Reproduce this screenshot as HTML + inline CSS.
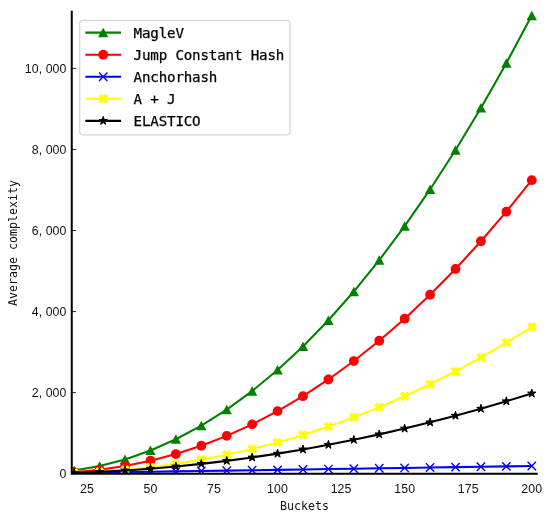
<!DOCTYPE html>
<html><head><meta charset="utf-8"><title>Average complexity</title>
<style>html,body{margin:0;padding:0;background:#fff}svg{display:block}</style></head>
<body>
<svg width="550" height="519" viewBox="0 0 550 519" font-family='"DejaVu Sans Mono","Liberation Mono",monospace'>
<rect width="550" height="519" fill="#fff"/>
<g stroke="#000" stroke-width="0.85" fill="none">
<path d="M71.75 473.70h4.3"/>
<path d="M71.75 392.64h4.3"/>
<path d="M71.75 311.58h4.3"/>
<path d="M71.75 230.52h4.3"/>
<path d="M71.75 149.46h4.3"/>
<path d="M71.75 68.40h4.3"/>
</g>
<defs><clipPath id="ax"><rect x="71.75" y="10.8" width="465.95" height="462.9"/></clipPath></defs>
<g clip-path="url(#ax)">
<g stroke="#008000" fill="#008000">
<polyline points="74.20,470.56 99.62,466.06 125.04,459.40 150.46,450.49 175.88,439.25 201.30,425.63 226.72,409.57 252.14,391.05 277.56,370.01 302.98,346.43 328.40,320.28 353.82,291.53 379.24,260.16 404.66,226.14 430.08,189.44 455.50,150.06 480.92,107.97 506.34,63.15 531.76,15.59" fill="none" stroke-width="2.08" stroke-linejoin="round"/>
<g stroke-width="0" stroke-linejoin="miter">
<path d="M74.20 465.66L69.05 475.16L79.35 475.16Z"/>
<path d="M99.62 461.16L94.47 470.66L104.77 470.66Z"/>
<path d="M125.04 454.50L119.89 464.00L130.19 464.00Z"/>
<path d="M150.46 445.59L145.31 455.09L155.61 455.09Z"/>
<path d="M175.88 434.35L170.73 443.85L181.03 443.85Z"/>
<path d="M201.30 420.73L196.15 430.23L206.45 430.23Z"/>
<path d="M226.72 404.67L221.57 414.17L231.87 414.17Z"/>
<path d="M252.14 386.15L246.99 395.65L257.29 395.65Z"/>
<path d="M277.56 365.11L272.41 374.61L282.71 374.61Z"/>
<path d="M302.98 341.53L297.83 351.03L308.13 351.03Z"/>
<path d="M328.40 315.38L323.25 324.88L333.55 324.88Z"/>
<path d="M353.82 286.63L348.67 296.13L358.97 296.13Z"/>
<path d="M379.24 255.26L374.09 264.76L384.39 264.76Z"/>
<path d="M404.66 221.24L399.51 230.74L409.81 230.74Z"/>
<path d="M430.08 184.54L424.93 194.04L435.23 194.04Z"/>
<path d="M455.50 145.16L450.35 154.66L460.65 154.66Z"/>
<path d="M480.92 103.07L475.77 112.57L486.07 112.57Z"/>
<path d="M506.34 58.25L501.19 67.75L511.49 67.75Z"/>
<path d="M531.76 10.69L526.61 20.19L536.91 20.19Z"/>
</g></g>
<g stroke="#ff0000" fill="#ff0000">
<polyline points="74.20,472.20 99.62,469.75 125.04,465.97 150.46,460.75 175.88,454.03 201.30,445.75 226.72,435.87 252.14,424.34 277.56,411.11 302.98,396.18 328.40,379.49 353.82,361.03 379.24,340.76 404.66,318.68 430.08,294.75 455.50,268.95 480.92,241.27 506.34,211.69 531.76,180.19" fill="none" stroke-width="2.08" stroke-linejoin="round"/>
<g stroke-width="0" stroke-linejoin="miter">
<circle cx="74.20" cy="472.20" r="4.9"/>
<circle cx="99.62" cy="469.75" r="4.9"/>
<circle cx="125.04" cy="465.97" r="4.9"/>
<circle cx="150.46" cy="460.75" r="4.9"/>
<circle cx="175.88" cy="454.03" r="4.9"/>
<circle cx="201.30" cy="445.75" r="4.9"/>
<circle cx="226.72" cy="435.87" r="4.9"/>
<circle cx="252.14" cy="424.34" r="4.9"/>
<circle cx="277.56" cy="411.11" r="4.9"/>
<circle cx="302.98" cy="396.18" r="4.9"/>
<circle cx="328.40" cy="379.49" r="4.9"/>
<circle cx="353.82" cy="361.03" r="4.9"/>
<circle cx="379.24" cy="340.76" r="4.9"/>
<circle cx="404.66" cy="318.68" r="4.9"/>
<circle cx="430.08" cy="294.75" r="4.9"/>
<circle cx="455.50" cy="268.95" r="4.9"/>
<circle cx="480.92" cy="241.27" r="4.9"/>
<circle cx="506.34" cy="211.69" r="4.9"/>
<circle cx="531.76" cy="180.19" r="4.9"/>
</g></g>
<g stroke="#0000ff" fill="#0000ff">
<polyline points="74.20,472.93 99.62,472.54 125.04,472.16 150.46,471.77 175.88,471.39 201.30,471.00 226.72,470.62 252.14,470.23 277.56,469.85 302.98,469.46 328.40,469.08 353.82,468.69 379.24,468.31 404.66,467.92 430.08,467.54 455.50,467.15 480.92,466.77 506.34,466.38 531.76,466.00" fill="none" stroke-width="2.08" stroke-linejoin="round"/>
<g stroke-width="1.39" stroke-linejoin="miter">
<path d="M70.00 468.73L78.40 477.13M70.00 477.13L78.40 468.73"/>
<path d="M95.42 468.34L103.82 476.74M95.42 476.74L103.82 468.34"/>
<path d="M120.84 467.96L129.24 476.36M120.84 476.36L129.24 467.96"/>
<path d="M146.26 467.57L154.66 475.97M146.26 475.97L154.66 467.57"/>
<path d="M171.68 467.19L180.08 475.59M171.68 475.59L180.08 467.19"/>
<path d="M197.10 466.80L205.50 475.20M197.10 475.20L205.50 466.80"/>
<path d="M222.52 466.42L230.92 474.82M222.52 474.82L230.92 466.42"/>
<path d="M247.94 466.03L256.34 474.43M247.94 474.43L256.34 466.03"/>
<path d="M273.36 465.65L281.76 474.05M273.36 474.05L281.76 465.65"/>
<path d="M298.78 465.26L307.18 473.66M298.78 473.66L307.18 465.26"/>
<path d="M324.20 464.88L332.60 473.28M324.20 473.28L332.60 464.88"/>
<path d="M349.62 464.49L358.02 472.89M349.62 472.89L358.02 464.49"/>
<path d="M375.04 464.11L383.44 472.51M375.04 472.51L383.44 464.11"/>
<path d="M400.46 463.72L408.86 472.12M400.46 472.12L408.86 463.72"/>
<path d="M425.88 463.34L434.28 471.74M425.88 471.74L434.28 463.34"/>
<path d="M451.30 462.95L459.70 471.35M451.30 471.35L459.70 462.95"/>
<path d="M476.72 462.57L485.12 470.97M476.72 470.97L485.12 462.57"/>
<path d="M502.14 462.18L510.54 470.58M502.14 470.58L510.54 462.18"/>
<path d="M527.56 461.80L535.96 470.20M527.56 470.20L535.96 461.80"/>
</g></g>
<g stroke="#ffff00" fill="#ffff00">
<polyline points="74.20,472.95 99.62,471.73 125.04,469.83 150.46,467.23 175.88,463.87 201.30,459.73 226.72,454.78 252.14,449.02 277.56,442.41 302.98,434.94 328.40,426.59 353.82,417.36 379.24,407.23 404.66,396.19 430.08,384.22 455.50,371.32 480.92,357.48 506.34,342.69 531.76,326.94" fill="none" stroke-width="2.08" stroke-linejoin="round"/>
<g stroke-width="1" stroke-linejoin="miter">
<path d="M69.90 470.80L72.05 468.65L74.20 470.80L76.35 468.65L78.50 470.80L76.35 472.95L78.50 475.10L76.35 477.25L74.20 475.10L72.05 477.25L69.90 475.10L72.05 472.95Z"/>
<path d="M95.32 469.58L97.47 467.43L99.62 469.58L101.77 467.43L103.92 469.58L101.77 471.73L103.92 473.88L101.77 476.03L99.62 473.88L97.47 476.03L95.32 473.88L97.47 471.73Z"/>
<path d="M120.74 467.68L122.89 465.53L125.04 467.68L127.19 465.53L129.34 467.68L127.19 469.83L129.34 471.98L127.19 474.13L125.04 471.98L122.89 474.13L120.74 471.98L122.89 469.83Z"/>
<path d="M146.16 465.08L148.31 462.93L150.46 465.08L152.61 462.93L154.76 465.08L152.61 467.23L154.76 469.38L152.61 471.53L150.46 469.38L148.31 471.53L146.16 469.38L148.31 467.23Z"/>
<path d="M171.58 461.72L173.73 459.57L175.88 461.72L178.03 459.57L180.18 461.72L178.03 463.87L180.18 466.02L178.03 468.17L175.88 466.02L173.73 468.17L171.58 466.02L173.73 463.87Z"/>
<path d="M197.00 457.58L199.15 455.43L201.30 457.58L203.45 455.43L205.60 457.58L203.45 459.73L205.60 461.88L203.45 464.03L201.30 461.88L199.15 464.03L197.00 461.88L199.15 459.73Z"/>
<path d="M222.42 452.63L224.57 450.48L226.72 452.63L228.87 450.48L231.02 452.63L228.87 454.78L231.02 456.93L228.87 459.08L226.72 456.93L224.57 459.08L222.42 456.93L224.57 454.78Z"/>
<path d="M247.84 446.87L249.99 444.72L252.14 446.87L254.29 444.72L256.44 446.87L254.29 449.02L256.44 451.17L254.29 453.32L252.14 451.17L249.99 453.32L247.84 451.17L249.99 449.02Z"/>
<path d="M273.26 440.26L275.41 438.11L277.56 440.26L279.71 438.11L281.86 440.26L279.71 442.41L281.86 444.56L279.71 446.71L277.56 444.56L275.41 446.71L273.26 444.56L275.41 442.41Z"/>
<path d="M298.68 432.79L300.83 430.64L302.98 432.79L305.13 430.64L307.28 432.79L305.13 434.94L307.28 437.09L305.13 439.24L302.98 437.09L300.83 439.24L298.68 437.09L300.83 434.94Z"/>
<path d="M324.10 424.44L326.25 422.29L328.40 424.44L330.55 422.29L332.70 424.44L330.55 426.59L332.70 428.74L330.55 430.89L328.40 428.74L326.25 430.89L324.10 428.74L326.25 426.59Z"/>
<path d="M349.52 415.21L351.67 413.06L353.82 415.21L355.97 413.06L358.12 415.21L355.97 417.36L358.12 419.51L355.97 421.66L353.82 419.51L351.67 421.66L349.52 419.51L351.67 417.36Z"/>
<path d="M374.94 405.08L377.09 402.93L379.24 405.08L381.39 402.93L383.54 405.08L381.39 407.23L383.54 409.38L381.39 411.53L379.24 409.38L377.09 411.53L374.94 409.38L377.09 407.23Z"/>
<path d="M400.36 394.04L402.51 391.89L404.66 394.04L406.81 391.89L408.96 394.04L406.81 396.19L408.96 398.34L406.81 400.49L404.66 398.34L402.51 400.49L400.36 398.34L402.51 396.19Z"/>
<path d="M425.78 382.07L427.93 379.92L430.08 382.07L432.23 379.92L434.38 382.07L432.23 384.22L434.38 386.37L432.23 388.52L430.08 386.37L427.93 388.52L425.78 386.37L427.93 384.22Z"/>
<path d="M451.20 369.17L453.35 367.02L455.50 369.17L457.65 367.02L459.80 369.17L457.65 371.32L459.80 373.47L457.65 375.62L455.50 373.47L453.35 375.62L451.20 373.47L453.35 371.32Z"/>
<path d="M476.62 355.33L478.77 353.18L480.92 355.33L483.07 353.18L485.22 355.33L483.07 357.48L485.22 359.63L483.07 361.78L480.92 359.63L478.77 361.78L476.62 359.63L478.77 357.48Z"/>
<path d="M502.04 340.54L504.19 338.39L506.34 340.54L508.49 338.39L510.64 340.54L508.49 342.69L510.64 344.84L508.49 346.99L506.34 344.84L504.19 346.99L502.04 344.84L504.19 342.69Z"/>
<path d="M527.46 324.79L529.61 322.64L531.76 324.79L533.91 322.64L536.06 324.79L533.91 326.94L536.06 329.09L533.91 331.24L531.76 329.09L529.61 331.24L527.46 329.09L529.61 326.94Z"/>
</g></g>
<g stroke="#000000" fill="#000000">
<polyline points="74.20,472.90 99.62,471.89 125.04,470.49 150.46,468.68 175.88,466.48 201.30,463.87 226.72,460.86 252.14,457.45 277.56,453.64 302.98,449.42 328.40,444.81 353.82,439.79 379.24,434.37 404.66,428.56 430.08,422.34 455.50,415.71 480.92,408.69 506.34,401.27 531.76,393.44" fill="none" stroke-width="2.08" stroke-linejoin="round"/>
<g stroke-width="1" stroke-linejoin="miter">
<path d="M74.20 468.50L75.19 471.54L78.38 471.54L75.80 473.42L76.79 476.46L74.20 474.58L71.61 476.46L72.60 473.42L70.02 471.54L73.21 471.54Z"/>
<path d="M99.62 467.49L100.61 470.53L103.80 470.53L101.22 472.41L102.21 475.45L99.62 473.57L97.03 475.45L98.02 472.41L95.44 470.53L98.63 470.53Z"/>
<path d="M125.04 466.09L126.03 469.13L129.22 469.13L126.64 471.01L127.63 474.05L125.04 472.17L122.45 474.05L123.44 471.01L120.86 469.13L124.05 469.13Z"/>
<path d="M150.46 464.28L151.45 467.32L154.64 467.32L152.06 469.20L153.05 472.24L150.46 470.36L147.87 472.24L148.86 469.20L146.28 467.32L149.47 467.32Z"/>
<path d="M175.88 462.08L176.87 465.12L180.06 465.12L177.48 467.00L178.47 470.04L175.88 468.16L173.29 470.04L174.28 467.00L171.70 465.12L174.89 465.12Z"/>
<path d="M201.30 459.47L202.29 462.51L205.48 462.51L202.90 464.39L203.89 467.43L201.30 465.55L198.71 467.43L199.70 464.39L197.12 462.51L200.31 462.51Z"/>
<path d="M226.72 456.46L227.71 459.50L230.90 459.50L228.32 461.38L229.31 464.42L226.72 462.54L224.13 464.42L225.12 461.38L222.54 459.50L225.73 459.50Z"/>
<path d="M252.14 453.05L253.13 456.09L256.32 456.09L253.74 457.97L254.73 461.01L252.14 459.13L249.55 461.01L250.54 457.97L247.96 456.09L251.15 456.09Z"/>
<path d="M277.56 449.24L278.55 452.28L281.74 452.28L279.16 454.15L280.15 457.20L277.56 455.32L274.97 457.20L275.96 454.15L273.38 452.28L276.57 452.28Z"/>
<path d="M302.98 445.02L303.97 448.06L307.16 448.06L304.58 449.94L305.57 452.98L302.98 451.10L300.39 452.98L301.38 449.94L298.80 448.06L301.99 448.06Z"/>
<path d="M328.40 440.41L329.39 443.45L332.58 443.45L330.00 445.33L330.99 448.37L328.40 446.49L325.81 448.37L326.80 445.33L324.22 443.45L327.41 443.45Z"/>
<path d="M353.82 435.39L354.81 438.43L358.00 438.43L355.42 440.31L356.41 443.35L353.82 441.47L351.23 443.35L352.22 440.31L349.64 438.43L352.83 438.43Z"/>
<path d="M379.24 429.97L380.23 433.01L383.42 433.01L380.84 434.89L381.83 437.93L379.24 436.05L376.65 437.93L377.64 434.89L375.06 433.01L378.25 433.01Z"/>
<path d="M404.66 424.16L405.65 427.20L408.84 427.20L406.26 429.07L407.25 432.11L404.66 430.24L402.07 432.11L403.06 429.07L400.48 427.20L403.67 427.20Z"/>
<path d="M430.08 417.94L431.07 420.98L434.26 420.98L431.68 422.85L432.67 425.89L430.08 424.02L427.49 425.89L428.48 422.85L425.90 420.98L429.09 420.98Z"/>
<path d="M455.50 411.31L456.49 414.35L459.68 414.35L457.10 416.23L458.09 419.27L455.50 417.39L452.91 419.27L453.90 416.23L451.32 414.35L454.51 414.35Z"/>
<path d="M480.92 404.29L481.91 407.33L485.10 407.33L482.52 409.21L483.51 412.25L480.92 410.37L478.33 412.25L479.32 409.21L476.74 407.33L479.93 407.33Z"/>
<path d="M506.34 396.87L507.33 399.91L510.52 399.91L507.94 401.79L508.93 404.83L506.34 402.95L503.75 404.83L504.74 401.79L502.16 399.91L505.35 399.91Z"/>
<path d="M531.76 389.04L532.75 392.08L535.94 392.08L533.36 393.96L534.35 397.00L531.76 395.12L529.17 397.00L530.16 393.96L527.58 392.08L530.77 392.08Z"/>
</g></g>
</g>
<path d="M71.75 10.8V474.7M70.75 473.7H537.7" stroke="#000" stroke-width="2" fill="none"/>
<g font-family='"Liberation Sans",Arial,sans-serif' font-size="12.3" letter-spacing="0.15" fill="#111">
<text x="66.6" y="478.00" text-anchor="end">0</text>
<text x="66.6" y="396.94" text-anchor="end">2,<tspan dx="3.4">000</tspan></text>
<text x="66.6" y="315.88" text-anchor="end">4,<tspan dx="3.4">000</tspan></text>
<text x="66.6" y="234.82" text-anchor="end">6,<tspan dx="3.4">000</tspan></text>
<text x="66.6" y="153.76" text-anchor="end">8,<tspan dx="3.4">000</tspan></text>
<text x="66.6" y="72.70" text-anchor="end">10,<tspan dx="3.4">000</tspan></text>
<text x="86.91" y="493.2" text-anchor="middle">25</text>
<text x="150.46" y="493.2" text-anchor="middle">50</text>
<text x="214.01" y="493.2" text-anchor="middle">75</text>
<text x="277.56" y="493.2" text-anchor="middle">100</text>
<text x="341.11" y="493.2" text-anchor="middle">125</text>
<text x="404.66" y="493.2" text-anchor="middle">150</text>
<text x="468.21" y="493.2" text-anchor="middle">175</text>
<text x="531.76" y="493.2" text-anchor="middle">200</text>
</g>
<g font-size="11.63" fill="#111">
<text x="304.5" y="510" text-anchor="middle">Buckets</text>
<text transform="translate(16.6 243) rotate(-90)" text-anchor="middle">Average complexity</text>
</g>
<rect x="79.7" y="20.3" width="210.4" height="114.5" rx="3.2" ry="3.2" fill="#fff" fill-opacity="0.8" stroke="#d6d6d6" stroke-width="1.3"/>
<g stroke="#008000" fill="#008000"><path d="M85.3 32.65H121.1" stroke-width="2.08" fill="none"/>
<g stroke-width="0"><path d="M103.20 27.75L98.05 37.25L108.35 37.25Z"/></g></g>
<text x="133.6" y="37.85" font-size="14.2" letter-spacing="-0.18" fill="#000" stroke="#000" stroke-width="0.25">MagleV</text>
<g stroke="#ff0000" fill="#ff0000"><path d="M85.3 54.7H121.1" stroke-width="2.08" fill="none"/>
<g stroke-width="0"><circle cx="103.20" cy="54.70" r="4.9"/></g></g>
<text x="133.6" y="59.90" font-size="14.2" letter-spacing="-0.18" fill="#000" stroke="#000" stroke-width="0.25">Jump Constant Hash</text>
<g stroke="#0000ff" fill="#0000ff"><path d="M85.3 76.75H121.1" stroke-width="2.08" fill="none"/>
<g stroke-width="1.39"><path d="M99.00 72.55L107.40 80.95M99.00 80.95L107.40 72.55"/></g></g>
<text x="133.6" y="81.95" font-size="14.2" letter-spacing="-0.18" fill="#000" stroke="#000" stroke-width="0.25">Anchorhash</text>
<g stroke="#ffff00" fill="#ffff00"><path d="M85.3 98.8H121.1" stroke-width="2.08" fill="none"/>
<g stroke-width="1"><path d="M98.90 96.65L101.05 94.50L103.20 96.65L105.35 94.50L107.50 96.65L105.35 98.80L107.50 100.95L105.35 103.10L103.20 100.95L101.05 103.10L98.90 100.95L101.05 98.80Z"/></g></g>
<text x="133.6" y="104.00" font-size="14.2" letter-spacing="-0.18" fill="#000" stroke="#000" stroke-width="0.25">A + J</text>
<g stroke="#000000" fill="#000000"><path d="M85.3 120.85H121.1" stroke-width="2.08" fill="none"/>
<g stroke-width="1"><path d="M103.20 116.45L104.19 119.49L107.38 119.49L104.80 121.37L105.79 124.41L103.20 122.53L100.61 124.41L101.60 121.37L99.02 119.49L102.21 119.49Z"/></g></g>
<text x="133.6" y="126.05" font-size="14.2" letter-spacing="-0.18" fill="#000" stroke="#000" stroke-width="0.25">ELASTICO</text>
</svg>
</body></html>
